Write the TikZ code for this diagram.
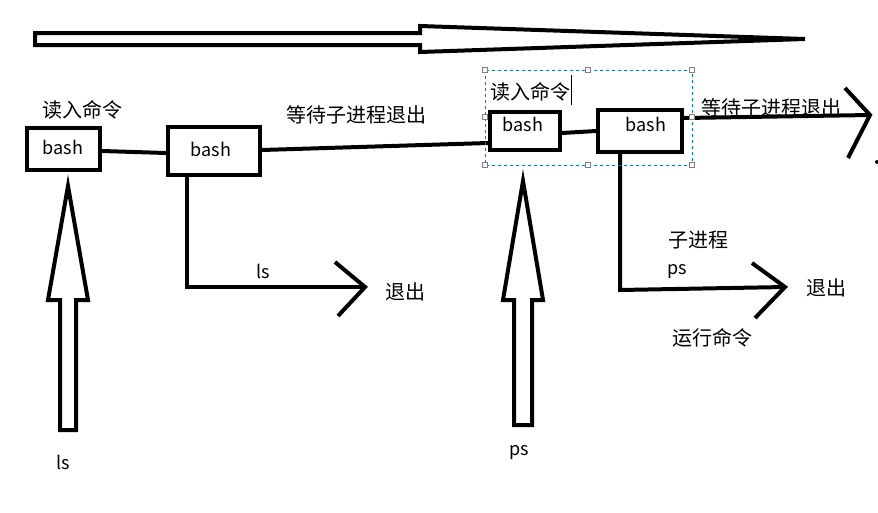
\documentclass[tikz,border=0pt]{standalone}
\usepackage{fontspec}
\setmainfont{Noto Sans CJK SC}
\begin{document}
\begin{tikzpicture}[x=1pt,y=-1pt,
  box/.style={draw,line width=4pt,inner sep=0pt},
  ln/.style={line width=4pt},
  lbl/.style={font=\fontsize{18}{20}\selectfont,inner sep=0pt},
  ttl/.style={font=\fontsize{20}{22}\selectfont,inner sep=0pt}]
\useasboundingbox (0,0) rectangle (878,512);
% top arrow
\draw[ln,line join=miter] (35,33) -- (420,33) -- (420,26) -- (805,39) -- (420,52) -- (420,45) -- (35,45) -- cycle;
% boxes
\node[box,minimum width=73pt,minimum height=42pt] (b1) at (63.5,149) {};
\node[lbl] at (63,147) {bash};
\node[box,minimum width=92pt,minimum height=48pt] (b2) at (214,151) {};
\node[lbl] at (211,149) {bash};
\node[box,minimum width=70pt,minimum height=38pt] (b3) at (525,131) {};
\node[lbl] at (523,124) {bash};
\node[box,minimum width=84pt,minimum height=42pt] (b4) at (640,131) {};
\node[lbl] at (646,124) {bash};
\draw[ln] (b1.east |- 0,151) -- (b2.west |- 0,153);
\draw[ln] (b2.east |- 0,150) -- (b3.west |- 0,143);
\draw[ln] (b3.east |- 0,133) -- (b4.west |- 0,131);
\coordinate (t1) at (870,115);
\draw[ln] (b4.east |- 0,118) -- (t1);
\draw[ln] (845,88) -- (t1) -- (848,158);
\fill (877,162) circle (2pt);
% branches
\coordinate (e1) at (365,287);
\draw[ln] (187,175) -- (187,287) -- (e1);
\draw[ln] (335,262) -- (e1) -- (338,316);
\coordinate (e2) at (785,287);
\draw[ln] (620,152) -- (620,290) -- (e2);
\draw[ln] (752,263) -- (e2) -- (755,318);
% hollow up arrows
\draw[ln,line join=miter] (60,430) -- (60,300) -- (48,300) -- (68,186) -- (88,300) -- (76,300) -- (76,430) -- cycle;
\draw[ln,line join=miter] (514,425) -- (514,300) -- (503,300) -- (523,181) -- (543,300) -- (532,300) -- (532,425) -- cycle;
% selection
\draw[dashed,draw={rgb,255:red,0;green,120;blue,215},line width=0.6pt] (485,70) rectangle (692,165);
\foreach \p in {(485,70),(588,70),(692,70),(485,117),(692,117),(485,165),(588,165),(692,165)}
  \draw[gray,fill=white,line width=0.5pt] \p ++(-2.5,-2.5) rectangle ++(5,5);
\draw[line width=0.8pt] (571,75) -- (571,105);
% labels
\node[ttl] at (82,110) {读入命令};
\node[ttl] at (356,115) {等待子进程退出};
\node[ttl] at (530,92) {读入命令};
\node[ttl] at (771,108) {等待子进程退出};
\node[lbl] at (263,271) {ls};
\node[ttl] at (405,292) {退出};
\node[ttl] at (698,240) {子进程};
\node[lbl] at (677,272) {ps};
\node[ttl] at (826,288) {退出};
\node[ttl] at (712,338) {运行命令};
\node[lbl] at (63,462) {ls};
\node[lbl] at (519,453) {ps};
\end{tikzpicture}
\end{document}
